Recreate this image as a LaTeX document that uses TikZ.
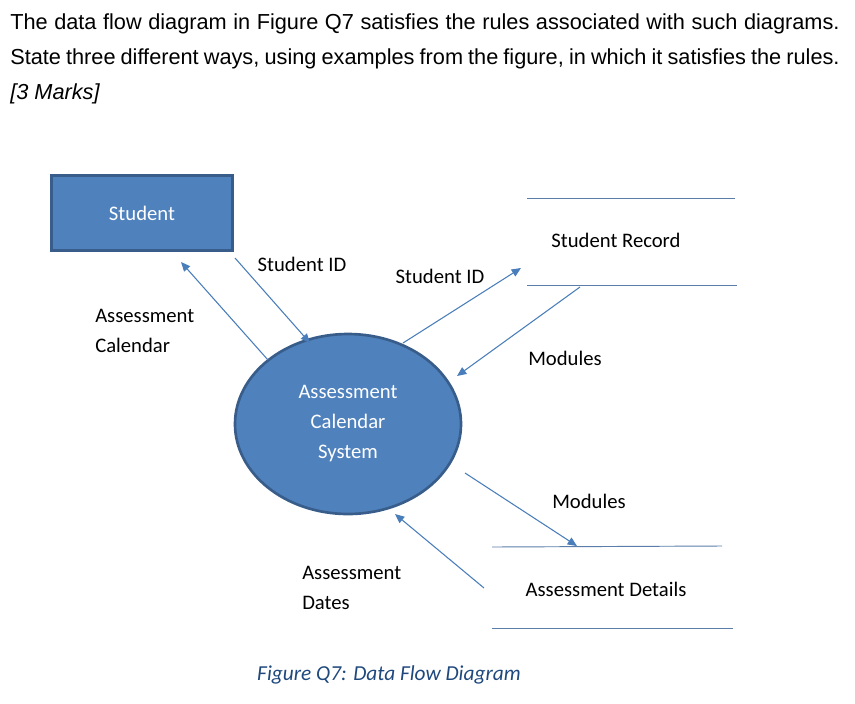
\documentclass[tikz,border=0pt]{standalone}
\usepackage{fontspec}
\setmainfont{Liberation Sans}
\newfontfamily\calfont{Carlito}
\usetikzlibrary{shapes.geometric,arrows.meta}
\definecolor{fillb}{HTML}{4F81BD}
\definecolor{edgeb}{HTML}{385D8A}
\definecolor{arr}{HTML}{4A7EBB}
\definecolor{capc}{HTML}{1F497D}
\begin{document}
\begin{tikzpicture}[x=0.75pt,y=-0.75pt,
  lbl/.style={font=\calfont\fontsize{15.5}{22}\selectfont,inner sep=0pt},
  flow/.style={draw=arr,line width=0.8pt,-{Triangle[length=7pt,width=6pt]}},
  store/.style={draw=arr!70!gray,line width=0.7pt}]
\useasboundingbox (0,0) rectangle (855,703);
\node[anchor=north west,inner sep=0pt,text width=622pt,align=justify,
  font=\fontsize{16.3}{26.3}\selectfont] (q) at (10,13)
  {The data flow diagram in Figure Q7 satisfies the rules associated with such diagrams. State three different ways, using examples from the figure, in which it satisfies the rules.\hfill\textit{[3 Marks]}};
\node[draw=edgeb,line width=2pt,fill=fillb,minimum width=181*0.75pt,minimum height=75*0.75pt,
  text=white,font=\calfont\fontsize{15.5}{17}\selectfont] (stu) at (142,213) {Student};
\node[ellipse,draw=edgeb,line width=2pt,fill=fillb,minimum width=226*0.75pt,minimum height=180*0.75pt,
  text=white,align=center,font=\calfont\fontsize{15.5}{22.5}\selectfont] (sys) at (348,424)
  {Assessment\\Calendar\\System};
\coordinate (r1a) at (527,198); \coordinate (r1b) at (735,198);
\coordinate (r2a) at (527,285); \coordinate (r2b) at (737,285);
\draw[store] (r1a) -- (r1b); \draw[store] (r2a) -- (r2b);
\node[lbl] (sr) at (616,240) {Student Record};
\coordinate (d1a) at (492,547); \coordinate (d1b) at (722,546);
\coordinate (d2a) at (492,628); \coordinate (d2b) at (733,628);
\draw[store] (d1a) -- (d1b); \draw[store] (d2a) -- (d2b);
\node[lbl] (ad) at (606,589) {Assessment Details};
% arrows
\coordinate (a1s) at (268,360); \coordinate (a1e) at (181,262);
\draw[flow] (a1s) -- (a1e);
\node[lbl,anchor=west,align=left] (l1) at (95,331) {Assessment\\Calendar};
\coordinate (a2s) at (235,258); \coordinate (a2e) at (310,343);
\draw[flow] (a2s) -- (a2e);
\node[lbl] (l2) at (302,264) {Student ID};
\coordinate (a3s) at (403,343); \coordinate (a3e) at (521,268);
\draw[flow] (a3s) -- (a3e);
\node[lbl] (l3) at (440,276) {Student ID};
\coordinate (a4s) at (580,287); \coordinate (a4e) at (457,376);
\draw[flow] (a4s) -- (a4e);
\node[lbl] (l4) at (565,358) {Modules};
\coordinate (a5s) at (465,473); \coordinate (a5e) at (577,546);
\draw[flow] (a5s) -- (a5e);
\node[lbl] (l5) at (589,501) {Modules};
\coordinate (a6s) at (484,588); \coordinate (a6e) at (395,514);
\draw[flow] (a6s) -- (a6e);
\node[lbl,anchor=west,align=left] (l6) at (302,588) {Assessment\\Dates};
\node[lbl,text=capc,font=\calfont\itshape\fontsize{16}{18}\selectfont] (cap) at (389,675) {Figure Q7: Data Flow Diagram};
\end{tikzpicture}
\end{document}
